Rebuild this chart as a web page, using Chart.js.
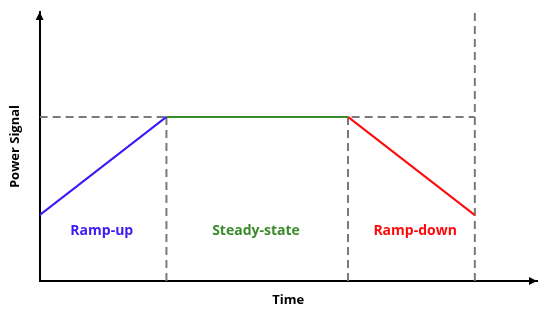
<!DOCTYPE html>
<html>
<head>
<meta charset="utf-8">
<script src="https://cdn.jsdelivr.net/npm/chart.js@4"></script>
<style>
  html, body { margin: 0; padding: 0; background: #ffffff; }
  #wrap { width: 550px; height: 314px; }
</style>
</head>
<body>
<div id="wrap"><canvas id="chart"></canvas></div>
<script>
// phase boundaries on the time axis (arbitrary units)
const phaseTimes = [0, 2.55, 6.2, 8.75];
const timeMax = 10;
const powerMax = 10;

// power levels
const lowPower = 2.45;
const steadyPower = 6.1;

// phase names and the time where each label sits
const phaseLabels = ["Ramp-up", "Steady-state", "Ramp-down"];
const labelTimes = [1.25, 4.35, 7.55];
const labelPower = 1.85;
const phaseColors = ["#3a1af5", "#3a8c2a", "#ff0a0a"];

const guideColor = "#7a7a7a";

// -----------------------------
// datasets: colored phases first (drawn on top), then dashed guides
// -----------------------------
const datasets = [
    {
        data: [{x: phaseTimes[0], y: lowPower}, {x: phaseTimes[1], y: steadyPower}],
        borderColor: phaseColors[0]
    },
    {
        data: [{x: phaseTimes[1], y: steadyPower}, {x: phaseTimes[2], y: steadyPower}],
        borderColor: phaseColors[1]
    },
    {
        data: [{x: phaseTimes[2], y: steadyPower}, {x: phaseTimes[3], y: lowPower}],
        borderColor: phaseColors[2]
    },
    // dashed guides
    {
        data: [{x: phaseTimes[0], y: steadyPower}, {x: phaseTimes[3], y: steadyPower}],
        borderColor: guideColor, borderDash: [8, 5]
    },
    {
        data: [{x: phaseTimes[1], y: 0}, {x: phaseTimes[1], y: steadyPower}],
        borderColor: guideColor, borderDash: [8, 5]
    },
    {
        data: [{x: phaseTimes[2], y: 0}, {x: phaseTimes[2], y: steadyPower}],
        borderColor: guideColor, borderDash: [8, 5]
    },
    {
        data: [{x: phaseTimes[3], y: 0}, {x: phaseTimes[3], y: powerMax}],
        borderColor: guideColor, borderDash: [8, 5]
    }
];

/* =========================
   PLUGIN: axis arrows + phase labels
========================= */
const decorPlugin = {
    id: "decor",
    afterDatasetsDraw(chart) {
        const ctx = chart.ctx;
        const xs = chart.scales.x;
        const ys = chart.scales.y;
        const area = chart.chartArea;

        ctx.save();
        // phase labels placed through the scales
        ctx.font = "bold 14px 'Open Sans', sans-serif";
        ctx.textAlign = "center";
        ctx.textBaseline = "middle";
        phaseLabels.forEach((label, i) => {
            ctx.fillStyle = phaseColors[i];
            ctx.fillText(label, xs.getPixelForValue(labelTimes[i]), ys.getPixelForValue(labelPower));
        });

        // arrow heads at the ends of the axes
        ctx.fillStyle = "#000";
        ctx.beginPath();
        ctx.moveTo(area.left, area.top);
        ctx.lineTo(area.left - 4, area.top + 8);
        ctx.lineTo(area.left + 4, area.top + 8);
        ctx.closePath();
        ctx.fill();

        ctx.beginPath();
        ctx.moveTo(area.right, area.bottom);
        ctx.lineTo(area.right - 8, area.bottom - 4);
        ctx.lineTo(area.right - 8, area.bottom + 4);
        ctx.closePath();
        ctx.fill();
        ctx.restore();
    }
};

new Chart(document.getElementById("chart"), {
    type: "line",
    data: { datasets: datasets },
    options: {
        responsive: true,
        maintainAspectRatio: false,
        animation: false,
        events: [],
        layout: { padding: { left: 0, right: 13, top: 12, bottom: 0 } },
        elements: {
            line: { borderWidth: 2, tension: 0 },
            point: { radius: 0 }
        },
        plugins: {
            legend: { display: false },
            tooltip: { enabled: false }
        },
        scales: {
            x: {
                type: "linear",
                min: 0,
                max: timeMax,
                grid: { display: false, drawTicks: false },
                ticks: { display: false },
                border: { display: true, color: "#000", width: 2 },
                title: {
                    display: true,
                    text: "Time",
                    color: "#000",
                    font: { family: "'Open Sans', sans-serif", size: 13, weight: "bold" },
                    padding: { top: 11.4, bottom: 6 }
                }
            },
            y: {
                type: "linear",
                min: 0,
                max: powerMax,
                grid: { display: false, drawTicks: false },
                ticks: { display: false },
                border: { display: true, color: "#000", width: 2 },
                title: {
                    display: true,
                    text: "Power Signal",
                    color: "#000",
                    font: { family: "'Open Sans', sans-serif", size: 13, weight: "bold" },
                    padding: { top: 7, bottom: 17 }
                }
            }
        }
    },
    plugins: [decorPlugin]
});
</script>
</body>
</html>
